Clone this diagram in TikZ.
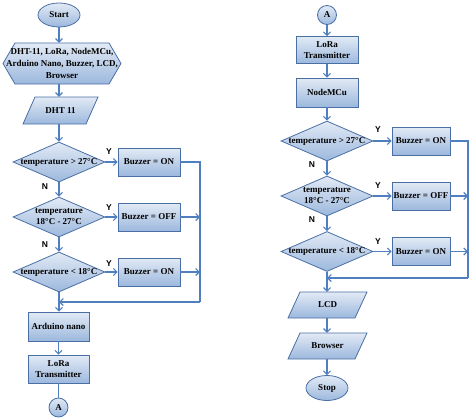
\documentclass[tikz,border=0pt]{standalone}
\usepackage{fontspec}
\setmainfont{Liberation Serif}
\newfontfamily\ynfont{Liberation Sans}
\usetikzlibrary{shapes.geometric,arrows.meta}
\definecolor{edgeblue}{HTML}{4A6FA5}
\definecolor{lineblue}{HTML}{4F7FBF}
\definecolor{filltop}{HTML}{E2EAF5}
\definecolor{fillbot}{HTML}{9CB8DD}
\tikzset{
 shp/.style={draw=edgeblue, line width=0.8pt, top color=filltop, bottom color=fillbot},
 box/.style={shp, rectangle, inner sep=0pt, minimum height=28pt, font=\fontsize{9}{11}\selectfont\bfseries, align=center},
 dec/.style={shp, diamond, inner sep=0pt, minimum width=92pt, minimum height=40pt},
 term/.style={shp, ellipse, inner sep=0pt, minimum width=42pt, minimum height=24pt, font=\fontsize{9}{11}\selectfont\bfseries},
 conn/.style={shp, circle, inner sep=0pt, minimum size=19pt, font=\fontsize{9}{11}\selectfont\bfseries},
 txt/.style={inner sep=0pt, font=\fontsize{9}{11}\selectfont\bfseries, align=center},
 flow/.style={draw=lineblue, line width=1.1pt, -{Straight Barb[length=3.5pt,width=7pt]}},
 plain/.style={draw=lineblue, line width=1.1pt},
 yn/.style={inner sep=0pt, font=\ynfont\bfseries\fontsize{8.5}{9}\selectfont},
}
\begin{document}
\begin{tikzpicture}[x=1pt,y=-1pt]
\useasboundingbox (0,0) rectangle (474,418);
% ---------------- left column ----------------
\node[term] (start) at (59,15) {Start};
\path[shp] (3,63.5) -- (15,43) -- (109,43) -- (121,63.5) -- (109,84) -- (15,84) -- cycle;
\node[txt, minimum width=118pt, minimum height=41pt, font=\fontsize{9}{12}\selectfont\bfseries] (hx) at (62,63.5)
 {DHT-11, LoRa, NodeMCu,\\Arduino Nano, Buzzer, LCD,\\Browser};
\path[shp] (23,124) -- (35,97) -- (98,97) -- (86,124) -- cycle;
\node[txt, minimum width=63pt, minimum height=27pt] (dht) at (60.5,110.5) {DHT 11};

\node[dec] (d1) at (59,162) {};
\node[txt] (d1t) at (d1) {temperature > 27°C};
\node[dec] (d2) at (59,217) {};
\node[txt] (d2t) at (d2) {temperature\\18°C - 27°C};
\node[dec] (d3) at (59,272) {};
\node[txt] (d3t) at (d3) {temperature < 18°C};

\node[box, minimum width=62pt] (b1) at (149,162) {Buzzer = ON};
\node[box, minimum width=62pt] (b2) at (149,217) {Buzzer = OFF};
\node[box, minimum width=62pt] (b3) at (149,272) {Buzzer = ON};

\node[box, minimum width=61pt, minimum height=29pt] (ard) at (58.5,326.5) {Arduino nano};
\node[box, minimum width=61pt] (lora) at (58.5,369) {LoRa\\Transmitter};
\node[conn] (a1) at (58.5,407.5) {A};

\coordinate (lr) at (200,302);
\coordinate (lm) at (59,302);

\draw[flow] (start) -- (start |- hx.north);
\draw[flow] (hx.south -| start) -- (start |- dht.north);
\draw[flow] (dht.south -| d1) -- (d1.north);
\draw[flow] (d1.east) -- (b1.west);
\draw[flow] (d1.south) -- (d2.north);
\draw[flow] (d2.east) -- (b2.west);
\draw[flow] (d2.south) -- (d3.north);
\draw[flow] (d3.east) -- (b3.west);
\draw[plain] (b1.east) -- (b1.east -| lr) -- (lr);
\draw[flow] (b2.east) -- (b2.east -| lr);
\draw[flow] (b3.east) -- (b3.east -| lr);
\draw[flow] (lr) -- (lm);
\draw[flow] (d3.south) -- (d3.south |- ard.north);
\draw[flow] (ard) -- (lora);
\draw[plain] (lora) -- (a1);

\node[yn] (y1) at (109,152) {Y};
\node[yn] (y2) at (109,208) {Y};
\node[yn] (y3) at (109,264) {Y};
\node[yn] (n1) at (45,187) {N};
\node[yn] (n2) at (45,245) {N};

% ---------------- right column ----------------
\node[conn] (a2) at (327,15) {A};
\node[box, minimum width=62pt, minimum height=27pt] (lora2) at (327,50) {LoRa\\Transmitter};
\node[box, minimum width=62pt, minimum height=29pt] (nmcu) at (327,92.5) {NodeMCu};

\node[dec] (e1) at (327,141) {};
\node[txt] (e1t) at (e1) {temperature > 27°C};
\node[dec] (e2) at (327,196) {};
\node[txt] (e2t) at (e2) {temperature\\18°C - 27°C};
\node[dec] (e3) at (327,251.5) {};
\node[txt] (e3t) at (e3) {temperature < 18°C};

\node[box, minimum width=58pt] (c1) at (421,141) {Buzzer = ON};
\node[box, minimum width=58pt] (c2) at (421,196) {Buzzer = OFF};
\node[box, minimum width=58pt] (c3) at (421,251.5) {Buzzer = ON};

\path[shp] (288,318) -- (300,292) -- (367,292) -- (355,318) -- cycle;
\node[txt, minimum width=67pt, minimum height=26pt] (lcd) at (327.5,305) {LCD};
\path[shp] (288,359) -- (300,333) -- (367,333) -- (355,359) -- cycle;
\node[txt, minimum width=67pt, minimum height=26pt] (brw) at (327.5,346) {Browser};
\node[term, minimum height=25pt] (stop) at (327,388) {Stop};

\coordinate (rr) at (468,278);
\coordinate (rm) at (327,278);

\draw[flow] (a2) -- (lora2);
\draw[flow] (lora2) -- (nmcu);
\draw[flow] (nmcu) -- (e1);
\draw[flow] (e1.east) -- (c1.west);
\draw[flow] (e1.south) -- (e2.north);
\draw[flow] (e2.east) -- (c2.west);
\draw[flow] (e2.south) -- (e3.north);
\draw[flow] (e3.east) -- (c3.west);
\draw[plain] (c1.east) -- (c1.east -| rr) -- (rr);
\draw[flow] (c2.east) -- (c2.east -| rr);
\draw[flow] (c3.east) -- (c3.east -| rr);
\draw[flow] (rr) -- (rm);
\draw[flow] (e3.south) -- (e3.south |- lcd.north);
\draw[flow] (lcd.south -| e3) -- (e3 |- brw.north);
\draw[flow] (brw.south -| e3) -- (stop);

\node[yn] (y4) at (378,130) {Y};
\node[yn] (y5) at (378,186) {Y};
\node[yn] (y6) at (378,242) {Y};
\node[yn] (n3) at (312,165) {N};
\node[yn] (n4) at (312,220) {N};
\end{tikzpicture}
\end{document}
